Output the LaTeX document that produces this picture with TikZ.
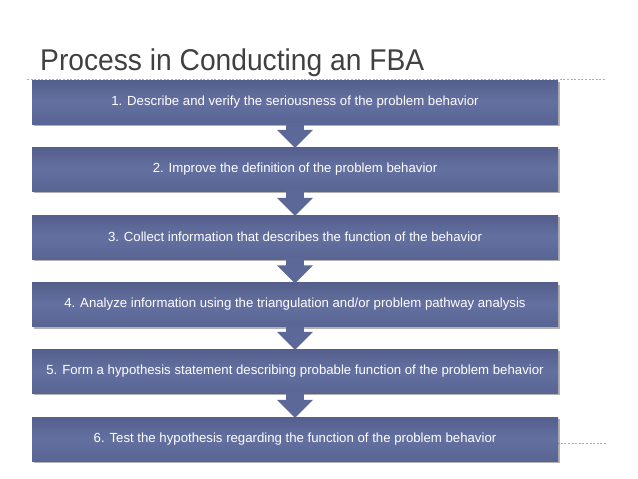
\documentclass[tikz,border=0pt]{standalone}
\usepackage{fontspec}
\setmainfont{Liberation Sans}
\newfontfamily\titlefont[FakeStretch=0.94]{Liberation Sans}
\usetikzlibrary{shadows,arrows.meta,calc}
\definecolor{boxtop}{RGB}{84,95,140}
\definecolor{boxmid}{RGB}{100,112,160}
\definecolor{boxbot}{RGB}{88,100,146}
\definecolor{arrowc}{RGB}{92,104,152}
\definecolor{dotc}{RGB}{158,176,196}
\definecolor{titlec}{RGB}{64,64,64}
\tikzset{
  stepbox/.style={rectangle, minimum width=526pt, minimum height=44pt, inner sep=0pt,
    top color=boxtop, bottom color=boxbot, middle color=boxmid,
    text=white, font=\fontsize{13.2}{15}\selectfont,
    drop shadow={shadow xshift=1.5pt, shadow yshift=-2pt, opacity=0.3, fill=black}},
  flowarrow/.style={draw=arrowc, line width=18pt,
    -{Triangle[width=35pt,length=18pt]}, fill=arrowc},
  dotline/.style={draw=dotc, line width=0.7pt, dash pattern=on 2pt off 1.6pt}
}
\begin{document}
\begin{tikzpicture}[x=1pt,y=-1pt]
\useasboundingbox (0,0) rectangle (638,479);
\node[anchor=base west, inner sep=0pt, text=titlec, font=\titlefont\fontsize{30}{34}\selectfont] (title) at (40,70) {Process in Conducting an FBA};
\coordinate (tl) at (27,79);
\coordinate (tr) at (606,79);
\draw[dotline] (tl) -- (tr);
\coordinate (bl) at (550,443);
\coordinate (br) at (607,443);
\draw[dotline] (bl) -- (br);
\path (295,102) coordinate (c1)
      (295,169) coordinate (c2)
      (295,237) coordinate (c3)
      (295,304.5) coordinate (c4)
      (295,371) coordinate (c5)
      (295,439) coordinate (c6);
\node[stepbox] (b1) at (c1) {1. Describe and verify the seriousness of the problem behavior};
\node[stepbox] (b2) at (c2) {2. Improve the definition of the problem behavior};
\node[stepbox] (b3) at (c3) {3. Collect information that describes the function of the behavior};
\node[stepbox] (b4) at (c4) {4. Analyze information using the triangulation and/or problem pathway analysis};
\node[stepbox] (b5) at (c5) {5. Form a hypothesis statement describing probable function of the problem behavior};
\node[stepbox] (b6) at (c6) {6. Test the hypothesis regarding the function of the problem behavior};
\foreach \a/\b in {b1/b2,b2/b3,b3/b4,b4/b5,b5/b6}{
  \draw[flowarrow] ($(\a.south)+(0,-1)$) -- ($(\b.north)+(0,1)$);
}
\end{tikzpicture}
\end{document}
